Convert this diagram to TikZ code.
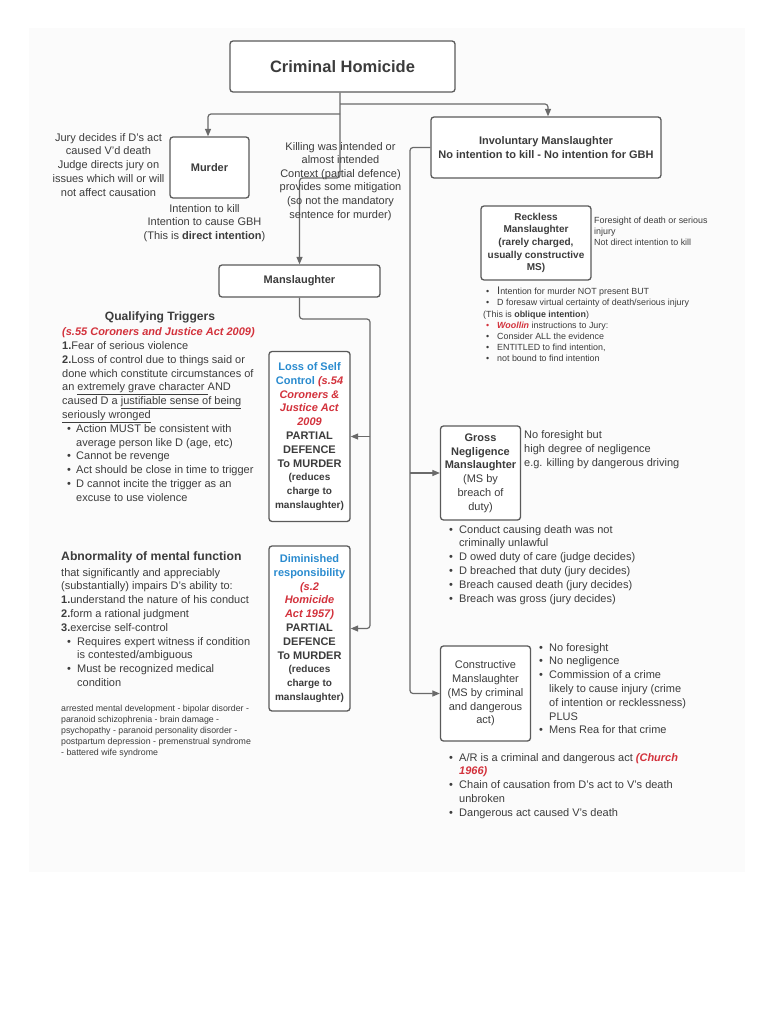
\documentclass[tikz,border=0pt]{standalone}
\usepackage{fontspec}
\setmainfont{Liberation Sans}
\usetikzlibrary{arrows.meta}
\definecolor{tgray}{HTML}{3C3C3C}
\definecolor{bgray}{HTML}{5A5A5A}
\definecolor{lgray}{HTML}{6A6A6A}
\definecolor{lred}{HTML}{D3323C}
\definecolor{lblue}{HTML}{2A8BCF}
\definecolor{pagebg}{HTML}{FBFBFB}
\newcommand{\fsz}[2]{\fontsize{#1}{#2}\selectfont}
\newcommand{\bulQ}{\makebox[14pt][l]{\hspace{5pt}•}}
\newcommand{\indQ}{\makebox[14pt]{}}
\newcommand{\bulA}{\makebox[16pt][l]{\hspace{6pt}•}}
\newcommand{\indA}{\makebox[16pt]{}}
\newcommand{\bulB}{\makebox[14pt][l]{\hspace{3pt}•}}
\newcommand{\bulC}{\makebox[10pt][l]{•}}
\newcommand{\indC}{\makebox[10pt]{}}
\begin{document}
\begin{tikzpicture}[x=1pt,y=-1pt,
  box/.style={draw=bgray,line width=1.3pt,rounded corners=3pt,fill=white,inner sep=0pt,align=center,text=tgray},
  conn/.style={draw=lgray,line width=1.2pt,rounded corners=3pt,-{Triangle[length=7.5pt,width=6pt]}},
  txt/.style={inner sep=0pt,text=tgray,font=\fsz{11}{13.8}},
]
\useasboundingbox (0,0) rectangle (768,1024);
\fill[white] (0,0) rectangle (768,1024);
\fill[pagebg] (29,28) rectangle (745,872);

% boxes
\node[box,minimum width=225pt,minimum height=51pt,font=\bfseries\fsz{16.5}{19}] (ch) at (342.5,66.5) {Criminal Homicide};
\node[box,minimum width=79pt,minimum height=61pt,font=\bfseries\fsz{11}{13.8}] (mu) at (209.5,167.5) {Murder};
\node[box,minimum width=161pt,minimum height=32pt,font=\bfseries\fsz{11}{13.8}] (ms) at (299.5,281) {Manslaughter};
\node[box,minimum width=81pt,minimum height=170pt,font=\bfseries\fsz{11}{13.8}] (ls) at (309.5,436.5)
 {\textcolor{lblue}{Loss of Self}\\ \textcolor{lblue}{Control} \textcolor{lred}{\textit{(s.54}}\\ \textcolor{lred}{\textit{Coroners \&}}\\ \textcolor{lred}{\textit{Justice Act}}\\ \textcolor{lred}{\textit{2009}}\\ PARTIAL\\ DEFENCE\\ To MURDER\\ {\fsz{10}{13.8}(reduces}\\ {\fsz{10}{13.8}charge to}\\ {\fsz{10}{13.8}manslaughter)}};
\node[box,minimum width=81pt,minimum height=165pt,font=\bfseries\fsz{11}{13.8}] (dr) at (309.5,628.5)
 {\textcolor{lblue}{Diminished}\\ \textcolor{lblue}{responsibility}\\ \textcolor{lred}{\textit{(s.2}}\\ \textcolor{lred}{\textit{Homicide}}\\ \textcolor{lred}{\textit{Act 1957)}}\\ PARTIAL\\ DEFENCE\\ To MURDER\\ {\fsz{10}{13.8}(reduces}\\ {\fsz{10}{13.8}charge to}\\ {\fsz{10}{13.8}manslaughter)}};
\node[box,minimum width=230pt,minimum height=61pt,font=\bfseries\fsz{11}{14}] (iv) at (546,147.5) {Involuntary Manslaughter\\No intention to kill - No intention for GBH};
\node[box,minimum width=110pt,minimum height=74pt,font=\bfseries\fsz{10}{12.7}] (rk) at (536,243) {Reckless\\Manslaughter\\(rarely charged,\\usually constructive\\MS)};
\node[box,minimum width=80pt,minimum height=94pt,font=\fsz{11}{13.8}] (gn) at (480.5,473) {\textbf{Gross}\\\textbf{Negligence}\\\textbf{Manslaughter}\\(MS by\\breach of\\duty)};
\node[box,minimum width=90pt,minimum height=95pt,font=\fsz{11}{13.8}] (cm) at (485.5,693.5) {Constructive\\Manslaughter\\(MS by criminal\\and dangerous\\act)};

% connectors
\coordinate (j1) at (340,104);
\coordinate (j2) at (340,114);
\coordinate (j3) at (340,178);
\coordinate (k1) at (370,319);
\coordinate (m1) at (410,148);
\draw[conn] (ch.south -| j1) -- (j3) -- (j3 -| ms.north) -- (ms.north);
\draw[conn] (j1) -| ([xshift=2pt]iv.north);
\draw[conn] (j2) -| ([xshift=-1.5pt]mu.north);
\draw[conn] (ms.south) |- (k1) -- (k1 |- dr.east) -- (dr.east);
\draw[conn] (k1 |- ls.east) -- (ls.east);
\draw[conn] (iv.west) -| (m1 |- cm.west) -- (cm.west);
\draw[conn] (m1 |- gn.west) -- (gn.west);

% texts
\node[txt,anchor=north,align=center] (jury) at (108.5,133) {Jury decides if D's act\\caused V'd death\\Judge directs jury on\\issues which will or will\\not affect causation};
\node[txt,anchor=north,align=center] (mut) at (204.5,204) {Intention to kill\\Intention to cause GBH\\(This is \textbf{direct intention})};
\node[txt,anchor=north,align=center,font=\fsz{11}{13.6}] (kill) at (340.5,142) {Killing was intended or\\almost intended\\Context (partial defence)\\provides some mitigation\\(so not the mandatory\\sentence for murder)};

\node[txt,anchor=north,font=\bfseries\fsz{12.1}{14}] (qt) at (160,311.5) {Qualifying Triggers};
\node[txt,anchor=north west,align=left] (qb) at (62,327.5) {\textcolor{lred}{\textbf{\textit{(s.55 Coroners and Justice Act 2009)}}}\\
 \textbf{1.}Fear of serious violence\\
 \textbf{2.}Loss of control due to things said or\\
 done which constitute circumstances of\\
 an \underline{extremely grave character\ }AND\\
 caused D a \underline{justifiable sense of being}\\
 \underline{seriously wronged}\\
 \bulQ Action MUST be consistent with\\
 \indQ average person like D (age, etc)\\
 \bulQ Cannot be revenge\\
 \bulQ Act should be close in time to trigger\\
 \bulQ D cannot incite the trigger as an\\
 \indQ excuse to use violence};

\node[txt,anchor=north west,font=\bfseries\fsz{12.2}{14}] (at) at (61,551.5) {Abnormality of mental function};
\node[txt,anchor=north west,align=left] (ab) at (61,568) {that significantly and appreciably\\
 (substantially) impairs D's ability to:\\
 \textbf{1.}understand the nature of his conduct\\
 \textbf{2.}form a rational judgment\\
 \textbf{3.}exercise self-control\\
 \bulA Requires expert witness if condition\\
 \indA is contested/ambiguous\\
 \bulA Must be recognized medical\\
 \indA condition};
\node[txt,anchor=north west,align=left,font=\fsz{8.8}{11}] (ml) at (61,704.5) {arrested mental development - bipolar disorder -\\paranoid schizophrenia - brain damage -\\psychopathy - paranoid personality disorder -\\postpartum depression - premenstrual syndrome\\- battered wife syndrome};

\node[txt,anchor=north west,align=left,font=\fsz{8.9}{11}] (rn) at (594,216.7) {Foresight of death or serious\\injury\\Not direct intention to kill};
\node[txt,anchor=north west,align=left,font=\fsz{8.9}{11.2}] (rb) at (483,287) {\bulB{\fsz{11}{11.2}I}ntention for murder NOT present BUT\\
 \bulB D foresaw virtual certainty of death/serious injury\\
 (This is \textbf{oblique intention})\\
 \textcolor{lred}{\bulB}\textcolor{lred}{\textbf{\textit{Woollin}}} instructions to Jury:\\
 \bulB Consider ALL the evidence\\
 \bulB ENTITLED to find intention,\\
 \bulB not bound to find intention};

\node[txt,anchor=north west,align=left,font=\fsz{11}{14}] (gnn) at (524,430) {No foresight but\\high degree of negligence\\e.g. killing by dangerous driving};
\node[txt,anchor=north west,align=left] (gb) at (449,525) {\bulC Conduct causing death was not\\
 \indC criminally unlawful\\
 \bulC D owed duty of care (judge decides)\\
 \bulC D breached that duty (jury decides)\\
 \bulC Breach caused death (jury decides)\\
 \bulC Breach was gross (jury decides)};
\node[txt,anchor=north west,align=left] (cb) at (539,643) {\bulC No foresight\\
 \bulC No negligence\\
 \bulC Commission of a crime\\
 \indC likely to cause injury (crime\\
 \indC of intention or recklessness)\\
 \indC PLUS\\
 \bulC Mens Rea for that crime};
\node[txt,anchor=north west,align=left] (cb2) at (449,753) {\bulC A/R is a criminal and dangerous act \textcolor{lred}{\textbf{\textit{(Church}}}\\
 \indC \textcolor{lred}{\textbf{\textit{1966)}}}\\
 \bulC Chain of causation from D's act to V's death\\
 \indC unbroken\\
 \bulC Dangerous act caused V's death};
\end{tikzpicture}
\end{document}
